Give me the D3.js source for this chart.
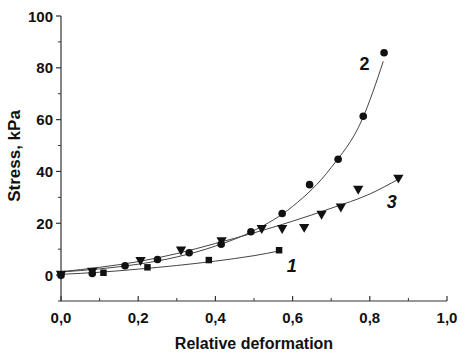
<!DOCTYPE html>
<html><head><meta charset="utf-8">
<script src="https://cdn.jsdelivr.net/npm/d3@7"></script>
<style>body{margin:0;background:#fff}svg{display:block}</style>
</head><body><svg id="c" width="474" height="356"></svg>
<script>
// Data points
const s1x = [0.0, 0.11, 0.224, 0.383, 0.565];
const s1y = [0.0, 0.9, 3.0, 5.8, 9.6];
const s2x = [0.0, 0.081, 0.166, 0.25, 0.332, 0.415, 0.492, 0.573, 0.644, 0.718, 0.783, 0.837];
const s2y = [0.0, 0.6, 3.6, 6.0, 8.6, 11.9, 16.7, 23.8, 34.9, 44.7, 61.3, 85.8];
const s3x = [0.0, 0.081, 0.206, 0.311, 0.416, 0.52, 0.573, 0.63, 0.675, 0.725, 0.77, 0.874];
const s3y = [0.5, 1.7, 5.8, 9.9, 13.5, 18.2, 18.2, 18.6, 23.7, 26.5, 33.3, 37.6];
// Fitted curves
const f1x = [0.0, 0.1, 0.2, 0.3, 0.4, 0.5, 0.565];
const f1y = [0.3, 1.1, 2.3, 3.7, 5.4, 7.5, 9.3];
const f2x = [0.0, 0.1, 0.2, 0.3, 0.4, 0.5, 0.6, 0.7, 0.78, 0.835];
const f2y = [1.2, 2.4, 4.2, 7.0, 11.2, 17.2, 26.5, 41.5, 60, 82.5];
const f3x = [0.0, 0.1, 0.2, 0.3, 0.4, 0.5, 0.6, 0.7, 0.8, 0.874];
const f3y = [1.3, 3.0, 5.2, 8.3, 12.2, 16.3, 20.8, 25.8, 31.3, 37.0];
const xTicks = [0, 0.2, 0.4, 0.6, 0.8, 1.0];
const xTickLabels = ["0,0", "0,2", "0,4", "0,6", "0,8", "1,0"];
const yTicks = [0, 20, 40, 60, 80, 100];
const labels = [{t:"1", x:0.598, y:1.2, it:true}, {t:"2", x:0.786, y:79, it:false}, {t:"3", x:0.857, y:26, it:true}];

const svg = d3.select("#c");
const x = d3.scaleLinear().domain([0, 1]).range([61, 447]);
const y = d3.scaleLinear().domain([-10, 100]).range([301, 16]);
const axisCol = "#333";
const FF = "Liberation Sans, Arial, sans-serif";

// X axis (ticks inward)
const gx = svg.append("g").attr("transform", "translate(0,301)");
gx.append("line").attr("x1", x(0)).attr("x2", x(1)).attr("stroke", axisCol).attr("stroke-width", 1.2);
gx.selectAll(".maj").data(xTicks).join("line")
  .attr("x1", d => x(d)).attr("x2", d => x(d)).attr("y1", 0).attr("y2", -5)
  .attr("stroke", axisCol).attr("stroke-width", 1.2);
gx.selectAll(".min").data(d3.range(0.1, 1, 0.2)).join("line")
  .attr("x1", d => x(d)).attr("x2", d => x(d)).attr("y1", 0).attr("y2", -3)
  .attr("stroke", axisCol).attr("stroke-width", 1);
gx.selectAll("text").data(xTicks).join("text")
  .attr("x", d => x(d)).attr("y", 22).attr("text-anchor", "middle")
  .attr("font-family", FF).attr("font-weight", "bold")
  .attr("font-size", 15).attr("fill", "#111")
  .text((d, i) => xTickLabels[i]);

// Y axis (ticks outward)
const gy = svg.append("g");
gy.append("line").attr("x1", 61).attr("x2", 61).attr("y1", y(-10)).attr("y2", y(100))
  .attr("stroke", axisCol).attr("stroke-width", 1.2);
gy.selectAll(".maj").data(yTicks).join("line")
  .attr("x1", 61).attr("x2", 56).attr("y1", d => y(d)).attr("y2", d => y(d))
  .attr("stroke", axisCol).attr("stroke-width", 1.2);
gy.selectAll(".min").data([-10, 10, 30, 50, 70, 90]).join("line")
  .attr("x1", 61).attr("x2", 58).attr("y1", d => y(d)).attr("y2", d => y(d))
  .attr("stroke", axisCol).attr("stroke-width", 1);
gy.selectAll("text").data(yTicks).join("text")
  .attr("x", 53).attr("y", d => y(d) + 5.5).attr("text-anchor", "end")
  .attr("font-family", FF).attr("font-weight", "bold")
  .attr("font-size", 15).attr("fill", "#111")
  .text(d => d);

// Axis titles
svg.append("text").attr("x", 254).attr("y", 349).attr("text-anchor", "middle")
  .attr("font-family", FF).attr("font-weight", "bold")
  .attr("font-size", 16).attr("fill", "#111").text("Relative deformation");
svg.append("text").attr("transform", "translate(20,156) rotate(-90)").attr("text-anchor", "middle")
  .attr("font-family", FF).attr("font-weight", "bold")
  .attr("font-size", 17).attr("fill", "#111").text("Stress, kPa");

// Fitted lines
const line = d3.line().x(d => x(d[0])).y(d => y(d[1])).curve(d3.curveMonotoneX);
[[f1x, f1y], [f2x, f2y], [f3x, f3y]].forEach(([xs, ys]) => {
  svg.append("path").attr("d", line(xs.map((v, i) => [v, ys[i]])))
    .attr("fill", "none").attr("stroke", "#444").attr("stroke-width", 1);
});

// Markers
const sq = d3.symbol().type(d3.symbolSquare).size(42);
const tri = d3.symbol().type(d3.symbolTriangle).size(46);
svg.append("g").selectAll("path").data(s1x.map((v, i) => [v, s1y[i]])).join("path")
  .attr("d", sq).attr("transform", d => `translate(${x(d[0])},${y(d[1])})`).attr("fill", "#111");
svg.append("g").selectAll("circle").data(s2x.map((v, i) => [v, s2y[i]])).join("circle")
  .attr("cx", d => x(d[0])).attr("cy", d => y(d[1])).attr("r", 3.8).attr("fill", "#111");
svg.append("g").selectAll("path").data(s3x.map((v, i) => [v, s3y[i]])).join("path")
  .attr("d", tri).attr("transform", d => `translate(${x(d[0])},${y(d[1])}) rotate(180)`).attr("fill", "#111");

// Curve labels
svg.append("g").selectAll("text").data(labels).join("text")
  .attr("x", d => x(d.x)).attr("y", d => y(d.y)).attr("text-anchor", "middle")
  .attr("font-family", FF).attr("font-weight", "bold")
  .attr("font-style", d => d.it ? "italic" : "normal").attr("font-size", 18).attr("fill", "#111")
  .text(d => d.t);
</script></body></html>
